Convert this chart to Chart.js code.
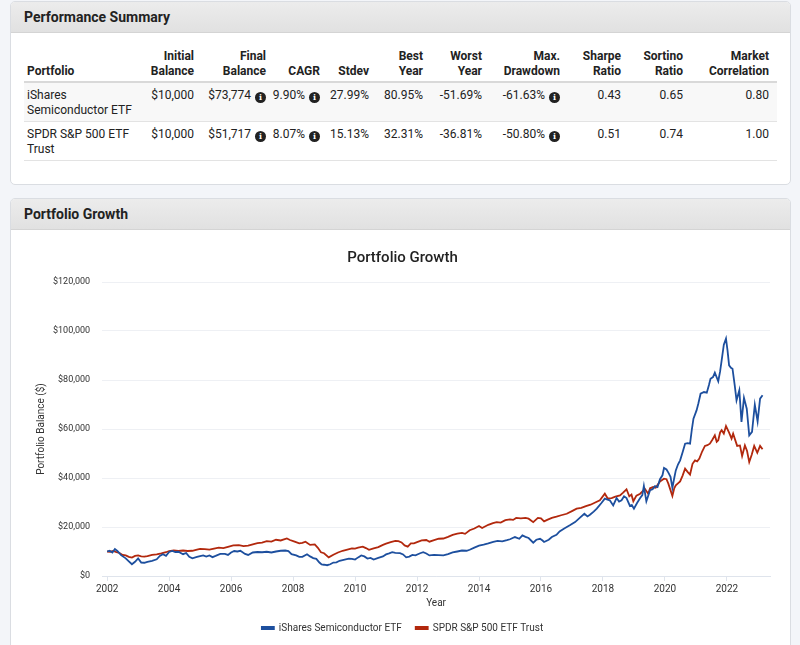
<!DOCTYPE html>
<html>
<head>
<meta charset="utf-8">
<script src="https://cdn.jsdelivr.net/npm/chart.js@4.4.1/dist/chart.umd.min.js"></script>
<style>
    body { margin: 0; width: 800px; height: 645px; overflow: hidden; background: #f3f5f9; font-family: Roboto, "Noto Sans", sans-serif; color: #222; }
    .panel { position: absolute; left: 10px; width: 779px; background: #fff; border: 1px solid #dadde2; border-radius: 5px; overflow: hidden; }
    .panel-head { height: 30px; line-height: 30px; padding-left: 13px; font-size: 14px; font-weight: bold; color: #222; background: linear-gradient(#ececec, #e1e1e1); border-bottom: 1px solid #d4d4d4; }
    table { position: absolute; left: 13px; top: 43px; border-collapse: collapse; table-layout: fixed; font-size: 12px; line-height: 15px; }
    th { font-weight: bold; text-align: right; vertical-align: bottom; padding: 4px 4px 2px 4px; border-bottom: 2px solid #d9d9d9; white-space: nowrap; }
    td { text-align: right; vertical-align: top; padding: 5px 4px 3px 0; border-bottom: 1px solid #e3e3e3; height: 27px; white-space: nowrap; }
    th:first-child, td:first-child { text-align: left; padding-left: 3px; }
    tr.odd td { background: #f8f8f8; }
    th:last-child, td:last-child { padding-right: 8px; }
    .info { display: inline-block; width: 11px; height: 11px; border-radius: 50%; background: #222; color: #fff; font-size: 8px; line-height: 11px; text-align: center; font-weight: bold; font-family: "DejaVu Serif", serif; vertical-align: -1px; margin-left: 1px; }
    #chartBox { position: absolute; left: 10px; top: 36px; }
</style>
</head>
<body>

<div class="panel" style="top: 1px; height: 182px;">
    <div class="panel-head">Performance Summary</div>
    <table>
        <colgroup>
            <col style="width:121px"><col style="width:53px"><col style="width:72px"><col style="width:54px">
            <col style="width:49px"><col style="width:54px"><col style="width:59px"><col style="width:78px">
            <col style="width:61px"><col style="width:62px"><col style="width:90px">
        </colgroup>
        <thead>
            <tr>
                <th>Portfolio</th><th>Initial<br>Balance</th><th>Final<br>Balance</th><th>CAGR</th><th>Stdev</th>
                <th>Best<br>Year</th><th>Worst<br>Year</th><th>Max.<br>Drawdown</th><th>Sharpe<br>Ratio</th>
                <th>Sortino<br>Ratio</th><th>Market<br>Correlation</th>
            </tr>
        </thead>
        <tbody>
            <tr class="odd">
                <td>iShares<br>Semiconductor ETF</td><td>$10,000</td><td>$73,774 <span class="info">i</span></td>
                <td>9.90% <span class="info">i</span></td><td>27.99%</td><td>80.95%</td><td>-51.69%</td>
                <td>-61.63% <span class="info">i</span></td><td>0.43</td><td>0.65</td><td>0.80</td>
            </tr>
            <tr>
                <td>SPDR S&amp;P 500 ETF<br>Trust</td><td>$10,000</td><td>$51,717 <span class="info">i</span></td>
                <td>8.07% <span class="info">i</span></td><td>15.13%</td><td>32.31%</td><td>-36.81%</td>
                <td>-50.80% <span class="info">i</span></td><td>0.51</td><td>0.74</td><td>1.00</td>
            </tr>
        </tbody>
    </table>
</div>

<div class="panel" style="top: 198px; height: 460px;">
    <div class="panel-head">Portfolio Growth</div>
    <div id="chartBox"><canvas id="growthChart" width="760" height="410"></canvas></div>
</div>

<script>
// Portfolio values (USD), with decimal-year positions
const semiYears = [2002.0, 2002.08, 2002.17, 2002.25, 2002.33, 2002.45, 2002.6, 2002.7, 2002.8, 2002.9,
    2003.0, 2003.1, 2003.2, 2003.3, 2003.45, 2003.6, 2003.7, 2003.8, 2003.9,
    2004.0, 2004.1, 2004.2, 2004.3, 2004.45, 2004.55, 2004.65, 2004.75, 2004.9,
    2005.0, 2005.1, 2005.2, 2005.3, 2005.4, 2005.5, 2005.65, 2005.8, 2005.9,
    2006.0, 2006.1, 2006.2, 2006.3, 2006.45, 2006.55, 2006.7, 2006.85,
    2007.0, 2007.15, 2007.3, 2007.45, 2007.6, 2007.75, 2007.85, 2007.95,
    2008.1, 2008.2, 2008.3, 2008.45, 2008.55, 2008.65, 2008.75, 2008.85, 2008.92,
    2009.0, 2009.1, 2009.2, 2009.3, 2009.4, 2009.5, 2009.6, 2009.7, 2009.8, 2009.9,
    2010.0, 2010.1, 2010.2, 2010.3, 2010.4, 2010.5, 2010.6, 2010.75, 2010.9,
    2011.0, 2011.1, 2011.2, 2011.3, 2011.45, 2011.55, 2011.65, 2011.75, 2011.85, 2011.95,
    2012.1, 2012.2, 2012.3, 2012.4, 2012.55, 2012.7, 2012.85,
    2013.0, 2013.15, 2013.3, 2013.45, 2013.6, 2013.7, 2013.85,
    2014.0, 2014.15, 2014.3, 2014.46, 2014.6, 2014.75, 2014.9,
    2015.0, 2015.16, 2015.3, 2015.4, 2015.5, 2015.6, 2015.75, 2015.85, 2015.97,
    2016.05, 2016.1, 2016.25, 2016.35, 2016.5, 2016.6, 2016.75, 2016.93,
    2017.1, 2017.25, 2017.4, 2017.5, 2017.58, 2017.7, 2017.8, 2017.95,
    2018.06, 2018.15, 2018.22, 2018.33, 2018.44, 2018.52, 2018.6, 2018.68, 2018.76, 2018.87, 2018.93,
    2019.0, 2019.1, 2019.2, 2019.27, 2019.32, 2019.4, 2019.52, 2019.6, 2019.68, 2019.76, 2019.84, 2019.92, 2019.97,
    2020.05, 2020.11, 2020.18, 2020.24, 2020.3, 2020.35, 2020.42, 2020.49, 2020.57, 2020.65, 2020.73, 2020.81, 2020.87, 2020.92,
    2021.02, 2021.08, 2021.15, 2021.26, 2021.35, 2021.42, 2021.47, 2021.55, 2021.61, 2021.72, 2021.78, 2021.83, 2021.9, 2021.97,
    2022.02, 2022.07, 2022.13, 2022.18, 2022.25, 2022.31, 2022.4, 2022.47, 2022.55, 2022.64, 2022.72, 2022.81, 2022.9, 2022.99,
    2023.07, 2023.15];
const semiValues = [10000, 10300, 9600, 11000, 10200, 8500, 7200, 6000, 4800, 5800,
    7200, 5500, 5400, 5800, 6200, 6800, 8200, 8900, 8200,
    9800, 10200, 9800, 9900, 8900, 9400, 7800, 7200, 7800,
    8100, 8400, 7900, 8400, 7700, 8200, 9000, 9000, 8600,
    9600, 10200, 10000, 10300, 9000, 8600, 9600, 9800,
    9700, 9900, 9600, 10000, 10300, 10400, 10200, 8900,
    8400, 7800, 7800, 8900, 8000, 7300, 7000, 5500, 4700,
    4600, 4400, 4800, 5500, 5600, 6200, 6500, 6800, 7100, 7000,
    6700, 7600, 8400, 8000, 7100, 7400, 6700, 7400, 8000,
    8800, 9200, 9700, 9400, 9300, 8800, 7600, 7900, 8600, 8400,
    9300, 9700, 9200, 8400, 8600, 8500, 8400,
    8900, 9600, 10000, 10400, 10300, 10700, 11600,
    12400, 12800, 13300, 13900, 14300, 14100, 14600,
    15000, 15900, 15200, 16600, 16000, 15500, 13600, 14800, 15200,
    14500, 13900, 14800, 15900, 16800, 18200, 19400, 20700,
    22000, 23700, 25400, 24300, 25000, 26300, 27500, 29800,
    31600, 31200, 30900, 28800, 31800, 30400, 30900, 32500, 31800, 28600, 29000,
    27500, 29800, 31800, 33000, 36700, 30500, 35000, 35400, 36700, 36300, 39500, 41100, 44100,
    43500, 42200, 40500, 36000, 40000, 43100, 45500, 47200, 50500, 54000, 54200, 54000, 60000, 64200,
    67600, 70500, 74400, 75100, 74800, 78000, 80500, 81200, 83000, 79500, 83500, 88000, 94400, 96900,
    92000, 86000, 85000, 84600, 78000, 71700, 75800, 62900, 72700, 68300, 57400, 58800, 69900, 63100,
    72400, 73774];

const spyYears = [2002.0, 2002.1, 2002.2, 2002.3, 2002.4, 2002.5, 2002.6, 2002.7, 2002.8, 2002.9,
    2003.0, 2003.1, 2003.2, 2003.3, 2003.45, 2003.6, 2003.75, 2003.9,
    2004.0, 2004.15, 2004.3, 2004.45, 2004.6, 2004.75, 2004.9,
    2005.0, 2005.15, 2005.3, 2005.45, 2005.6, 2005.75, 2005.9,
    2006.07, 2006.25, 2006.4, 2006.55, 2006.7, 2006.85,
    2007.0, 2007.15, 2007.3, 2007.45, 2007.6, 2007.8, 2007.9,
    2008.05, 2008.2, 2008.3, 2008.4, 2008.55, 2008.7, 2008.8, 2008.9,
    2009.0, 2009.15, 2009.3, 2009.45, 2009.6, 2009.75, 2009.9,
    2010.0, 2010.1, 2010.25, 2010.35, 2010.45, 2010.6, 2010.75, 2010.9,
    2011.0, 2011.15, 2011.3, 2011.4, 2011.5, 2011.6, 2011.7, 2011.8, 2011.9,
    2012.0, 2012.15, 2012.3, 2012.4, 2012.55, 2012.7, 2012.85,
    2013.0, 2013.15, 2013.3, 2013.45, 2013.55, 2013.7, 2013.85,
    2014.0, 2014.1, 2014.3, 2014.45, 2014.57, 2014.7, 2014.85,
    2015.0, 2015.1, 2015.2, 2015.35, 2015.5, 2015.6, 2015.75, 2015.9,
    2016.0, 2016.1, 2016.2, 2016.35, 2016.5, 2016.65, 2016.83,
    2017.0, 2017.15, 2017.3, 2017.45, 2017.6, 2017.75, 2017.9,
    2018.06, 2018.15, 2018.28, 2018.4, 2018.55, 2018.65, 2018.76, 2018.85, 2018.92, 2018.98,
    2019.08, 2019.2, 2019.3, 2019.35, 2019.46, 2019.52, 2019.62, 2019.7, 2019.84, 2019.97,
    2020.05, 2020.11, 2020.24, 2020.3, 2020.35, 2020.42, 2020.49, 2020.57, 2020.65, 2020.73, 2020.81, 2020.89, 2020.97,
    2021.04, 2021.11, 2021.2, 2021.29, 2021.37, 2021.45, 2021.53, 2021.61, 2021.67, 2021.72, 2021.78, 2021.83, 2021.9, 2021.97,
    2022.07, 2022.15, 2022.2, 2022.33, 2022.42, 2022.49, 2022.58, 2022.65, 2022.72, 2022.8, 2022.88, 2022.98,
    2023.07, 2023.15];
const spyValues = [10000, 9900, 10200, 9700, 9400, 8600, 8400, 7800, 7500, 8200,
    8400, 8000, 7900, 8100, 8600, 8800, 9200, 9700,
    10200, 10400, 10200, 10400, 10200, 10300, 10800,
    11100, 11000, 10800, 11200, 11600, 11400, 11900,
    12500, 12600, 12200, 12400, 12900, 13400,
    13600, 14200, 14000, 14800, 14500, 15300, 14700,
    14000, 13300, 13500, 14000, 12700, 12900, 11500, 9700,
    9300, 7600, 8700, 9600, 10300, 10800, 11300,
    11200, 11600, 12000, 11400, 10700, 11300, 11800, 12700,
    13200, 13800, 14300, 14200, 13700, 12500, 12000, 13300, 13300,
    13800, 14500, 14700, 14000, 14600, 15200, 15300,
    16000, 16800, 17300, 17600, 17200, 18700, 19400,
    20400, 19600, 20900, 21600, 22000, 21800, 22800,
    23100, 22900, 23700, 23500, 23700, 23400, 22000, 23700,
    23500, 22300, 22900, 23700, 24200, 24800, 25400,
    26500, 27500, 27800, 28500, 29100, 30000, 30900,
    33600, 31700, 31800, 32400, 32900, 34000, 35400, 32500, 33200, 30500,
    32800, 33600, 34800, 35600, 33600, 35800, 36300, 36000, 38600, 39700,
    39500, 37700, 32700, 35800, 37000, 37800, 38600, 41000, 43800, 42500, 41400, 45800, 47200,
    46800, 47900, 50800, 53100, 53400, 54000, 55600, 57400, 54800, 55400, 58600, 59500, 58100, 61200,
    58500, 56100, 58100, 53100, 53300, 49000, 53300, 51000, 46500, 49500, 53100, 50300,
    53100, 51717];

const seriesNames = ['iShares Semiconductor ETF', 'SPDR S&P 500 ETF Trust'];
const seriesColors = ['#1d4f9e', '#b2280d'];
const yearTicks = [2002, 2004, 2006, 2008, 2010, 2012, 2014, 2016, 2018, 2020, 2022];
const balanceTicks = [0, 20000, 40000, 60000, 80000, 100000, 120000];

function toPoints(xs, ys) {
    return xs.map((x, i) => ({ x: x, y: ys[i] }));
}

const tickFont = { family: 'Roboto', size: 10 };

new Chart(document.getElementById('growthChart').getContext('2d'), {
    type: 'line',
    data: {
        datasets: [
            { label: seriesNames[0], data: toPoints(semiYears, semiValues), borderColor: seriesColors[0], backgroundColor: seriesColors[0] },
            { label: seriesNames[1], data: toPoints(spyYears, spyValues), borderColor: seriesColors[1], backgroundColor: seriesColors[1] }
        ]
    },
    options: {
        responsive: false,
        animation: false,
        elements: {
            point: { radius: 0 },
            line: { borderWidth: 1.8, tension: 0 }
        },
        layout: { padding: { left: 14, right: 11, top: 0, bottom: 2 } },
        plugins: {
            title: {
                display: true,
                text: 'Portfolio Growth',
                color: '#222',
                font: { family: 'Roboto', size: 15, weight: '500' },
                padding: { top: 14, bottom: 15 }
            },
            legend: {
                position: 'bottom',
                labels: { boxWidth: 12, boxHeight: 2, color: '#333', font: { family: 'Roboto', size: 10 }, padding: 14 }
            },
            tooltip: { enabled: false }
        },
        scales: {
            x: {
                type: 'linear',
                min: 2001.84,
                max: 2023.39,
                afterBuildTicks: axis => { axis.ticks = yearTicks.map(v => ({ value: v })); },
                ticks: { color: '#333', font: tickFont, padding: 2, callback: v => String(v) },
                grid: { drawOnChartArea: false, drawTicks: true, tickLength: 5, color: '#dfe4ec' },
                border: { color: '#dfe4ec' },
                title: { display: true, text: 'Year', color: '#333', font: tickFont, padding: { top: 0, bottom: 0 } }
            },
            y: {
                min: 0,
                max: 120000,
                afterBuildTicks: axis => { axis.ticks = balanceTicks.map(v => ({ value: v })); },
                ticks: { color: '#333', font: { family: 'Roboto', size: 9 }, padding: 12, callback: v => '$' + v.toLocaleString('en-US') },
                grid: { color: '#eef0f4', drawTicks: false, lineWidth: 1 },
                border: { display: false },
                title: { display: true, text: 'Portfolio Balance ($)', color: '#333', font: tickFont, padding: { top: 0, bottom: -6 } }
            }
        }
    }
});
</script>
</body>
</html>
